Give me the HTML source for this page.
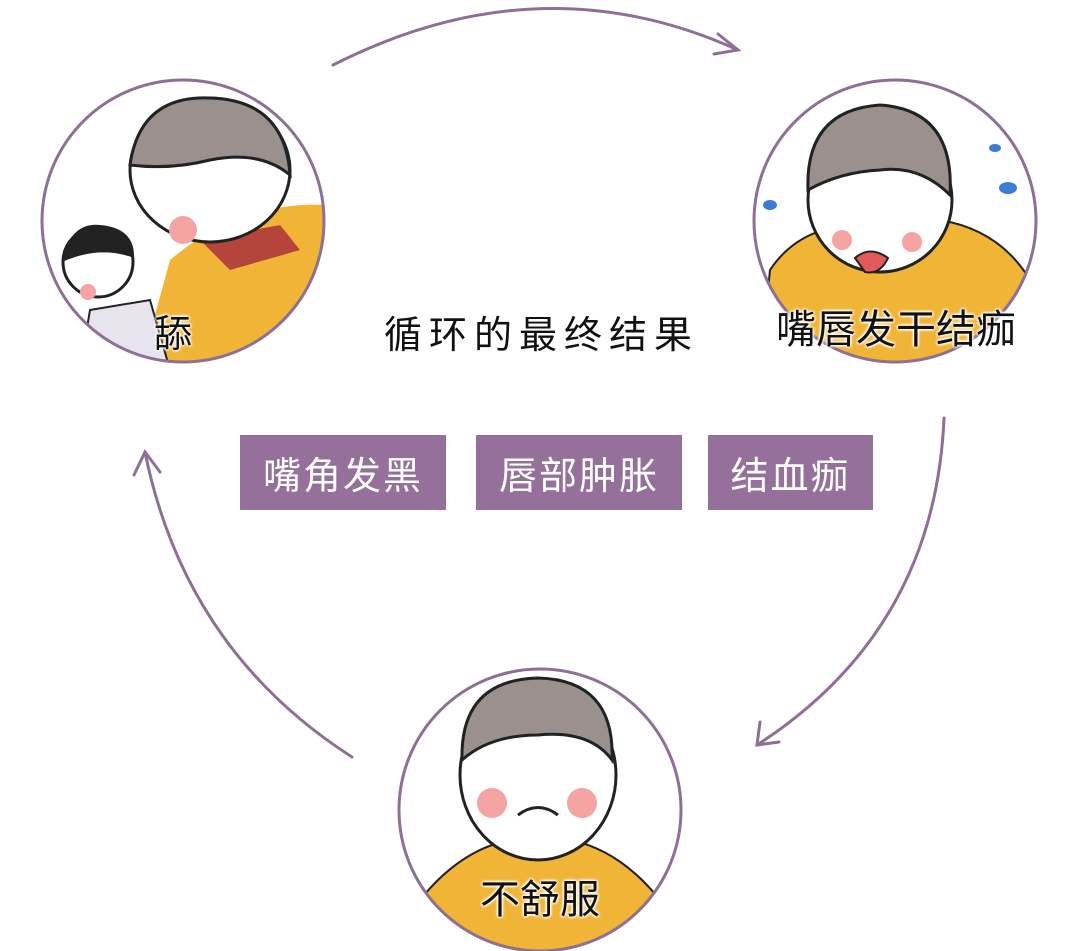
<!DOCTYPE html>
<html><head><meta charset="utf-8">
<style>
html,body{margin:0;padding:0;background:#fff;}
body{width:1080px;height:951px;overflow:hidden;position:relative;font-family:"Liberation Sans","Noto Sans CJK SC",sans-serif;}
.t{position:absolute;white-space:nowrap;}
.box{position:absolute;background:#94709a;color:#fff;font-size:38px;display:flex;align-items:center;justify-content:center;letter-spacing:2px;}
.lab{position:absolute;font-size:40px;color:#111;white-space:nowrap;text-shadow:0 0 3px #fff,0 0 3px #fff,0 0 3px #fff,0 0 3px #fff;}
</style></head><body>
<svg width="1080" height="951" style="position:absolute;left:0;top:0">
<defs>
<clipPath id="c1"><circle cx="183" cy="221" r="140"/></clipPath>
<clipPath id="c2"><circle cx="895" cy="221" r="140"/></clipPath>
<clipPath id="c3"><circle cx="540" cy="810" r="140"/></clipPath>
</defs>
<g fill="none" stroke="#8e6f95" stroke-width="3" stroke-linecap="round">
<path d="M333,65 Q540,-40 738,50"/>
<path d="M718,34 L738,50 L714,54"/>
<path d="M944,418 Q935,630 757,745"/>
<path d="M760,722 L757,745 L779,742"/>
<path d="M352,757 Q185,650 145,452"/>
<path d="M134,475 L145,452 L160,472"/>
</g>
<g clip-path="url(#c1)">
<rect x="40" y="80" width="290" height="290" fill="#fff"/>
<path d="M170,260 Q240,200 330,205 L330,370 L140,370 Z" fill="#f0b437"/>
<path d="M200,240 L280,225 L300,250 L230,270 Z" fill="#b5453a"/>
<ellipse cx="210" cy="170" rx="80" ry="72" fill="#fff" stroke="#222" stroke-width="3"/>
<path d="M130,165 Q140,95 210,98 Q285,100 290,175 Q260,150 210,160 Q170,170 130,165Z" fill="#9a918f" stroke="#222" stroke-width="3"/>
<circle cx="183" cy="230" r="14" fill="#f5a3a3"/>
<circle cx="98" cy="262" r="35" fill="#fff" stroke="#222" stroke-width="3"/>
<path d="M62,262 Q70,222 100,225 Q135,228 134,258 Q100,245 62,262Z" fill="#222"/>
<circle cx="88" cy="292" r="8" fill="#f5a3a3"/>
<path d="M90,310 L150,300 L170,370 L80,370Z" fill="#e8e4ee" stroke="#222" stroke-width="2"/>
</g>
<circle cx="183" cy="221" r="141" fill="none" stroke="#8e6f95" stroke-width="3"/>
<g clip-path="url(#c2)">
<rect x="753" y="80" width="290" height="290" fill="#fff"/>
<path d="M770,270 Q800,225 860,225 L940,220 Q1000,230 1030,280 L1040,370 L760,370Z" fill="#f0b437" stroke="#222" stroke-width="2"/>
<ellipse cx="880" cy="200" rx="72" ry="72" fill="#fff" stroke="#222" stroke-width="3"/>
<path d="M808,190 Q805,110 880,105 Q955,110 950,195 Q920,165 880,170 Q840,172 808,190Z" fill="#9a918f" stroke="#222" stroke-width="3"/>
<circle cx="842" cy="240" r="10" fill="#f5a3a3"/>
<circle cx="912" cy="242" r="10" fill="#f5a3a3"/>
<path d="M855,258 Q870,245 888,258 Q880,275 865,272Z" fill="#e25a5a" stroke="#222" stroke-width="2"/>
<ellipse cx="770" cy="205" rx="7" ry="5" fill="#3a7bd5"/>
<ellipse cx="1008" cy="188" rx="9" ry="6" fill="#3a7bd5"/>
<ellipse cx="995" cy="148" rx="6" ry="4" fill="#3a7bd5"/>
</g>
<circle cx="895" cy="221" r="141" fill="none" stroke="#8e6f95" stroke-width="3"/>
<g clip-path="url(#c3)">
<rect x="398" y="668" width="290" height="290" fill="#fff"/>
<path d="M420,900 Q460,850 510,840 L570,840 Q620,850 660,900 L680,951 L400,951Z" fill="#f0b437" stroke="#222" stroke-width="2"/>
<ellipse cx="538" cy="775" rx="78" ry="85" fill="#fff" stroke="#222" stroke-width="3"/>
<path d="M462,760 Q460,680 538,678 Q615,680 612,760 Q590,730 538,735 Q490,735 462,760Z" fill="#9a918f" stroke="#222" stroke-width="3"/>
<circle cx="492" cy="803" r="15" fill="#f5a3a3"/>
<circle cx="582" cy="803" r="15" fill="#f5a3a3"/>
<path d="M518,815 Q538,800 558,815" fill="none" stroke="#222" stroke-width="3"/>
</g>
<circle cx="540" cy="810" r="141" fill="none" stroke="#8e6f95" stroke-width="3"/>
</svg>

<div class="t" style="left:384px;top:304px;font-size:38px;color:#111;letter-spacing:7px;">循环的最终结果</div>
<div class="box" style="left:240px;top:435px;width:206px;height:75px;">嘴角发黑</div>
<div class="box" style="left:476px;top:435px;width:206px;height:75px;">唇部肿胀</div>
<div class="box" style="left:708px;top:435px;width:165px;height:75px;">结血痂</div>

<div class="lab" style="left:154px;top:303px;font-size:38px;">舔</div>
<div class="lab" style="left:776px;top:297px;">嘴唇发干结痂</div>
<div class="lab" style="left:480px;top:867px;">不舒服</div>
</body></html>
